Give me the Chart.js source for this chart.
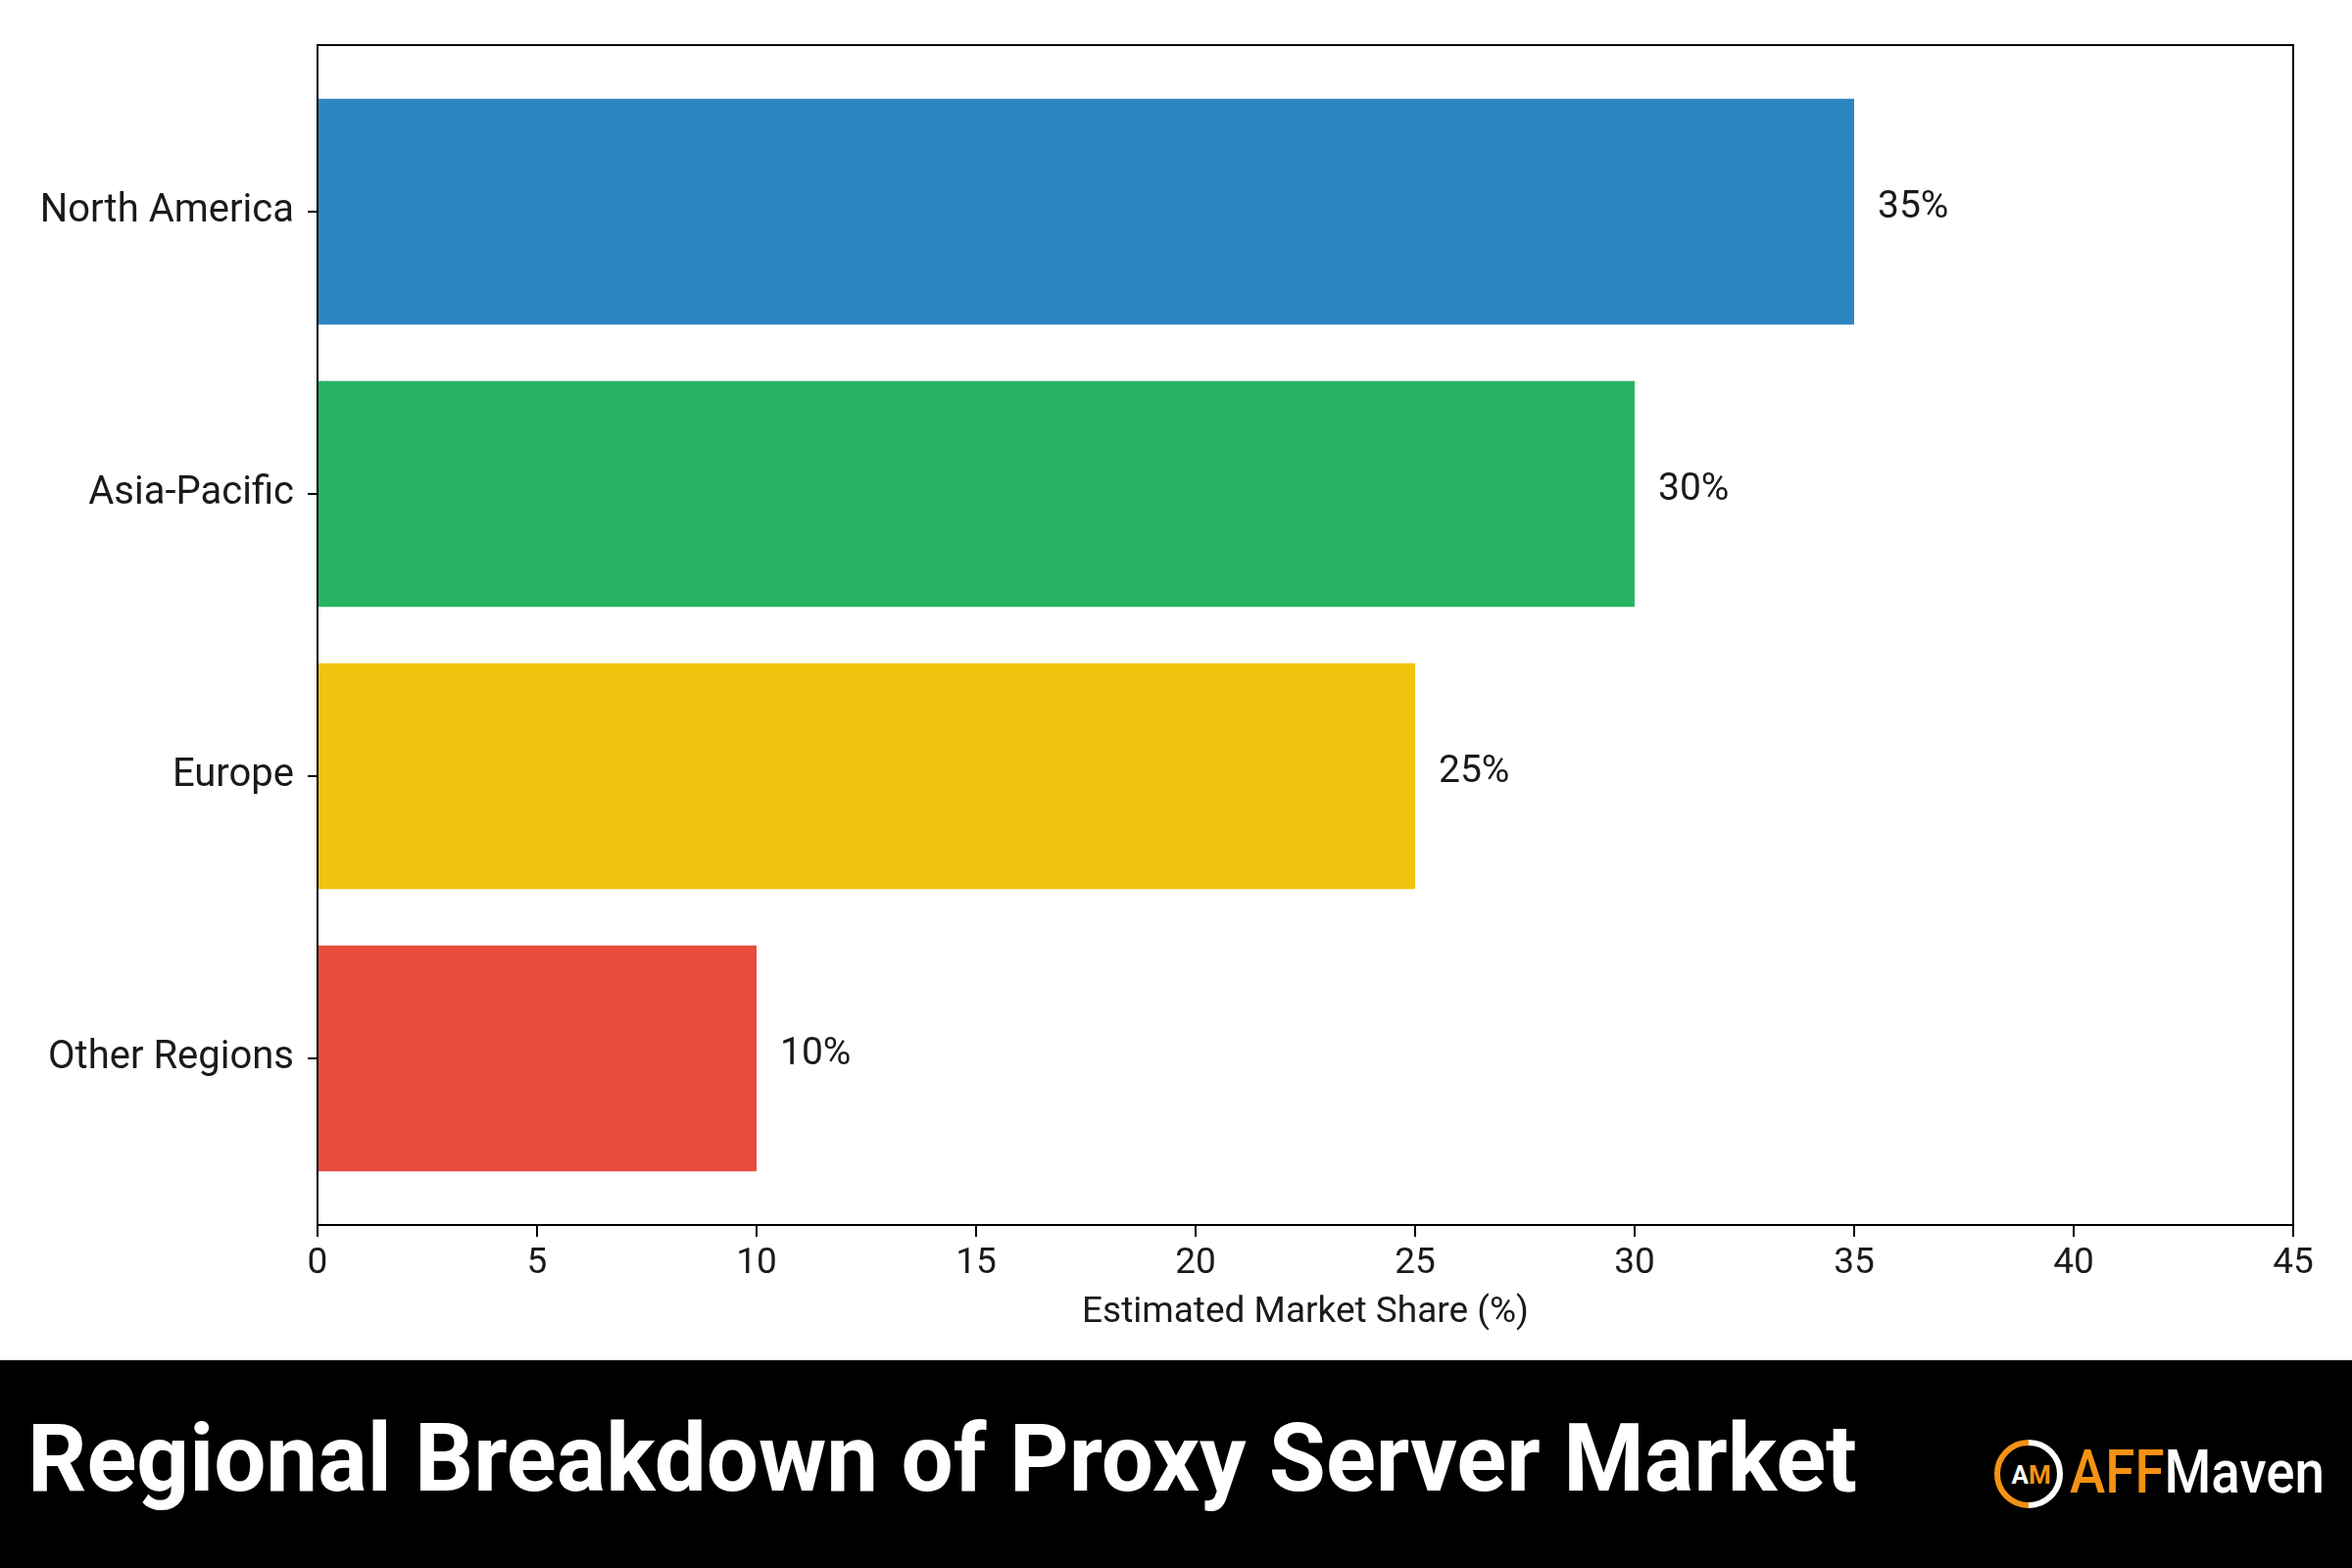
<!DOCTYPE html>
<html>
<head>
<meta charset="utf-8">
<script src="https://cdn.jsdelivr.net/npm/chart.js@4"></script>
<style>
  html, body { margin: 0; padding: 0; background: #fff; }
  #wrap { width: 2400px; height: 1600px; position: relative; overflow: hidden; }
  #chart-box { position: absolute; left: 0; top: 0; width: 2400px; height: 1388px; }
  #banner { position: absolute; left: 0; top: 1388px; width: 2400px; height: 212px; background: #000; }
  #title { position: absolute; left: 28px; top: 40px; color: #fff; font-family: Roboto, "Open Sans", sans-serif;
           font-weight: 700; font-size: 96px; line-height: 120px; white-space: nowrap; transform-origin: 0 50%; }
  #logo { position: absolute; left: 2034px; top: 80px; width: 72px; height: 72px; }
  #brand { position: absolute; left: 2112px; top: 78px; font-family: Roboto, "Open Sans", sans-serif; font-weight: 500;
           font-size: 62px; line-height: 72px; white-space: nowrap; transform-origin: 0 50%; }
  #brand .a { color: #f39214; }
  #brand .m { color: #fff; }
</style>
</head>
<body>
<div id="wrap">
  <div id="chart-box"><canvas id="chart" width="2400" height="1388"></canvas></div>
  <div id="banner">
    <div id="title">Regional Breakdown of Proxy Server Market</div>
    <svg id="logo" viewBox="0 0 72 72">
      <path d="M36 4 A32 32 0 0 0 36 68" fill="none" stroke="#f39214" stroke-width="6"/>
      <path d="M36 4 A32 32 0 0 1 36 68" fill="none" stroke="#fff" stroke-width="6"/>
      <text x="36" y="46" text-anchor="end" font-family="Roboto, sans-serif" font-size="26" font-weight="700" fill="#fff">A</text>
      <text x="36" y="46" text-anchor="start" font-family="Roboto, sans-serif" font-size="26" font-weight="700" fill="#f39214">M</text>
    </svg>
    <div id="brand"><span class="a">AFF</span><span class="m">Maven</span></div>
  </div>
</div>
<script>
const regions = ['North America', 'Asia-Pacific', 'Europe', 'Other Regions'];
const shares = [35, 30, 25, 10];
const barColors = ['#2e86c1', '#28b463', '#f1c40f', '#e74c3c'];
const xTicks = [0, 5, 10, 15, 20, 25, 30, 35, 40, 45];

// squeeze banner texts to the reference width
function fitWidth(id, target) {
    const el = document.getElementById(id);
    const w = el.getBoundingClientRect().width;
    el.style.transform = `scaleX(${target / w})`;
}
fitWidth('title', 1867);
fitWidth('brand', 260);

const frame = {
    id: 'frame',
    afterDraw(chart) {
        const { ctx, chartArea: a } = chart;
        ctx.save();
        ctx.strokeStyle = '#000';
        ctx.lineWidth = 2;
        ctx.strokeRect(a.left, a.top, a.right - a.left, a.bottom - a.top);
        ctx.restore();
    }
};

const valueLabels = {
    id: 'valueLabels',
    afterDatasetsDraw(chart) {
        const { ctx } = chart;
        const meta = chart.getDatasetMeta(0);
        ctx.save();
        ctx.fillStyle = '#1a1a1a';
        ctx.font = '39px Roboto, sans-serif';
        ctx.textBaseline = 'middle';
        ctx.textAlign = 'left';
        meta.data.forEach((bar, i) => {
            ctx.fillText(`${shares[i]}%`, bar.x + 24, bar.y - 4);
        });
        ctx.restore();
    }
};

const ctx = document.getElementById('chart').getContext('2d');
new Chart(ctx, {
    type: 'bar',
    data: {
        datasets: [{
            data: shares.map((v, i) => ({ x: v, y: i })),
            backgroundColor: barColors,
            borderWidth: 0,
            barPercentage: 0.8,
            categoryPercentage: 1,
        }],
    },
    options: {
        indexAxis: 'y',
        responsive: false,
        animation: false,
        layout: { padding: { top: 46, right: 60, left: 0, bottom: 26 } },
        plugins: { legend: { display: false }, tooltip: { enabled: false } },
        scales: {
            x: {
                type: 'linear',
                min: 0,
                max: 45,
                afterBuildTicks: (scale) => { scale.ticks = xTicks.map(v => ({ value: v })); },
                afterFit: (scale) => { scale.height = 112; },
                grid: { display: true, drawOnChartArea: false, drawTicks: true, tickLength: 12, color: '#000', lineWidth: 2 },
                border: { display: true, color: '#000', width: 2 },
                ticks: { color: '#1a1a1a', font: { family: 'Roboto', size: 37 }, padding: 6, maxRotation: 0 },
                title: { display: true, text: 'Estimated Market Share (%)', color: '#1a1a1a',
                         font: { family: 'Roboto', size: 37 }, padding: { top: 8, bottom: 0 } },
            },
            y: {
                type: 'linear',
                offset: false,
                reverse: true,
                min: -0.59,
                max: 3.59,
                afterBuildTicks: (scale) => { scale.ticks = regions.map((r, i) => ({ value: i })); },
                afterFit: (scale) => { scale.width = 324; },
                grid: { display: true, offset: false, drawOnChartArea: false, drawTicks: true, tickLength: 10, color: '#000', lineWidth: 2 },
                border: { display: true, color: '#000', width: 2 },
                ticks: {
                    color: '#1a1a1a',
                    font: { family: 'Roboto', size: 40 },
                    padding: 14,
                    callback: (v) => regions[v],
                },
            },
        },
    },
    plugins: [frame, valueLabels],
});
</script>
</body>
</html>
